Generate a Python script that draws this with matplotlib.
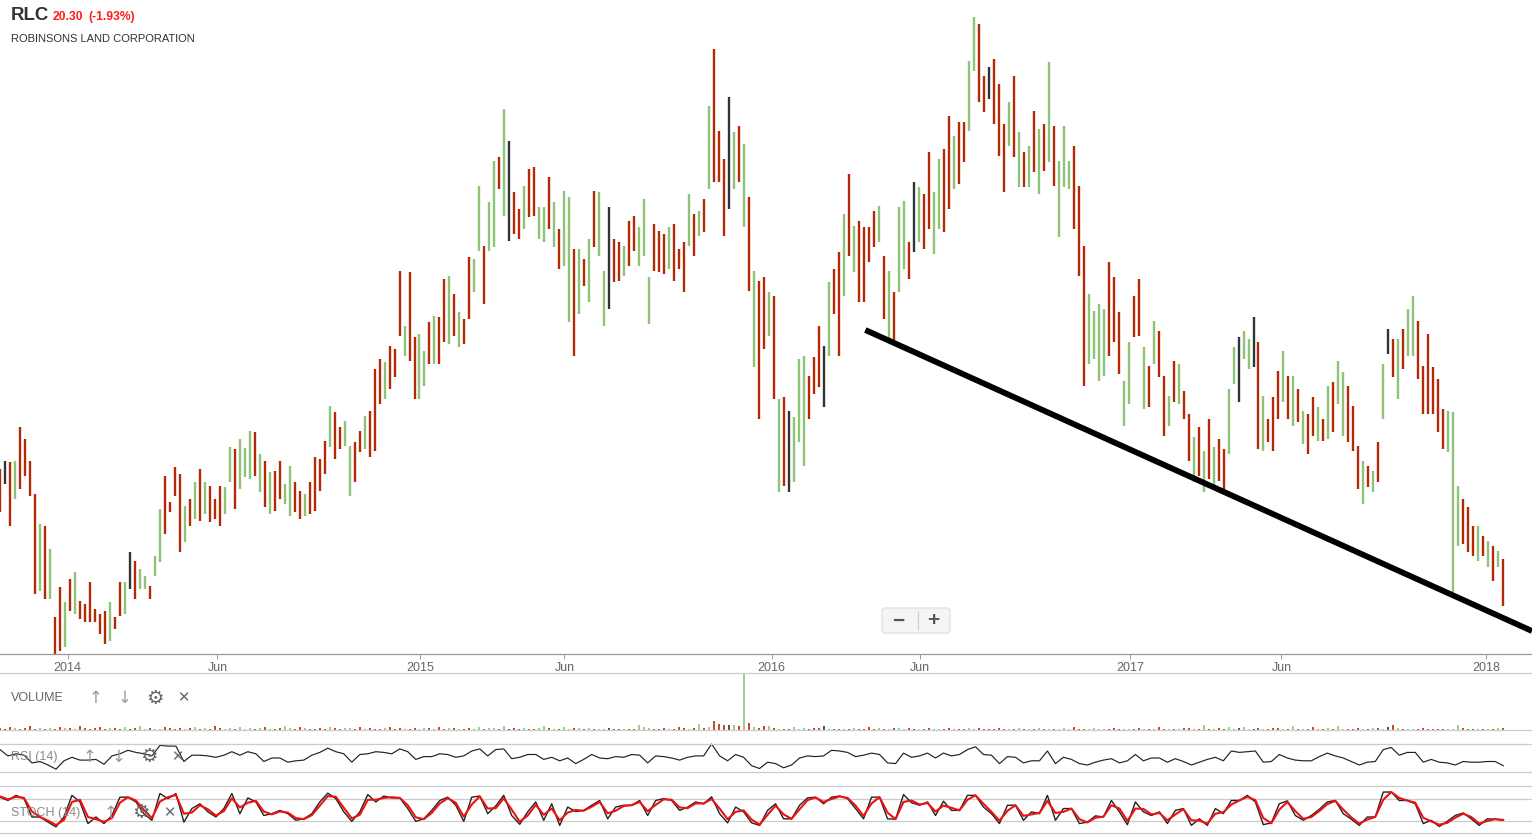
"""RLC daily range chart with volume, RSI and stochastic panels."""
import numpy as np
import matplotlib

matplotlib.use("Agg")
import matplotlib.pyplot as plt
from matplotlib.patches import FancyBboxPatch

plt.rcParams["font.family"] = ["Liberation Sans", "DejaVu Sans"]

W, H = 1532, 837
GREEN, RED, DARK = "#8fc377", "#b52a06", "#2f3538"
COLORS = {"g": GREEN, "r": RED, "k": DARK}
GRID = "#cccccc"

# price levels are read relative to the bottom axis, the chart shows no price scale
highs = [
    185, 193, 192, 193, 227, 215, 193, 160, 130, 128,
    105, 37, 67, 52, 75, 82, 53, 50, 72, 45,
    40, 43, 52, 37, 72, 72, 102, 93, 85, 78,
    68, 98, 145, 178, 152, 187, 180, 148, 155, 172,
    185, 172, 168, 155, 168, 167, 207, 205, 215, 206,
    223, 222, 200, 193, 182, 183, 193, 170, 188, 172,
    163, 160, 172, 197, 195, 213, 248, 242, 227, 233,
    208, 212, 223, 238, 243, 285, 295, 292, 308, 305,
    383, 328, 382, 317, 320, 303, 332, 338, 337, 375,
    378, 360, 342, 335, 397, 395, 468, 408, 452, 493,
    497, 545, 513, 462, 445, 468, 485, 487, 447, 447,
    477, 452, 425, 463, 457, 405, 405, 395, 415, 463,
    462, 383, 447, 415, 412, 408, 433, 438, 427, 455,
    377, 430, 423, 420, 427, 430, 405, 412, 460, 440,
    443, 455, 548, 605, 523, 495, 557, 522, 528, 510,
    457, 383, 373, 377, 362, 358, 255, 257, 243, 237,
    295, 298, 278, 297, 328, 308, 372, 385, 402, 440,
    480, 428, 433, 427, 427, 443, 448, 398, 383, 362,
    447, 453, 412, 472, 467, 460, 502, 462, 495, 505,
    538, 518, 532, 532, 593, 637, 630, 578, 587, 595,
    570, 530, 552, 578, 522, 502, 508, 543, 525, 530,
    592, 528, 493, 528, 493, 508, 468, 408, 360, 343,
    350, 345, 392, 377, 342, 273, 312, 358, 375, 307,
    288, 333, 323, 278, 258, 293, 290, 263, 240, 217,
    227, 203, 235, 207, 215, 205, 265, 307, 317, 323,
    315, 337, 312, 258, 235, 257, 283, 303, 278, 278,
    265, 243, 240, 257, 247, 235, 268, 272, 293, 282,
    268, 248, 208, 193, 188, 183, 212, 290, 325, 315,
    315, 325, 345, 358, 333, 288, 320, 287, 275, 245,
    243, 242, 168, 155, 147, 128, 128, 118, 113, 108,
    103, 95,
]
lows = [
    142, 170, 128, 155, 165, 178, 158, 60, 63, 55,
    55, 0, 3, 7, 43, 40, 35, 32, 32, 32,
    20, 10, 13, 25, 38, 40, 65, 55, 65, 65,
    55, 78, 92, 120, 142, 158, 102, 112, 128, 135,
    133, 140, 132, 135, 128, 140, 172, 145, 165, 177,
    175, 178, 162, 147, 140, 143, 155, 150, 138, 142,
    135, 138, 140, 143, 163, 180, 207, 195, 205, 208,
    158, 172, 202, 205, 197, 203, 250, 255, 265, 277,
    318, 298, 293, 255, 255, 268, 290, 290, 290, 312,
    310, 318, 307, 310, 335, 362, 403, 350, 403, 407,
    465, 438, 413, 420, 415, 425, 437, 438, 415, 412,
    425, 407, 385, 388, 332, 298, 340, 368, 352, 407,
    398, 328, 345, 372, 373, 378, 388, 403, 388, 398,
    330, 383, 382, 380, 385, 373, 385, 362, 408, 398,
    418, 422, 465, 472, 472, 418, 445, 465, 472, 427,
    363, 287, 235, 305, 318, 255, 162, 168, 162, 172,
    212, 188, 235, 260, 267, 247, 298, 340, 298, 358,
    398, 382, 352, 352, 392, 407, 412, 335, 315, 313,
    362, 385, 375, 402, 412, 405, 425, 400, 425, 422,
    445, 465, 470, 492, 523, 583, 552, 542, 555, 530,
    498, 462, 508, 497, 467, 467, 467, 482, 460, 483,
    492, 468, 417, 467, 465, 425, 378, 268, 290, 295,
    273, 278, 298, 312, 280, 228, 250, 317, 318, 245,
    247, 290, 277, 218, 228, 252, 250, 235, 193, 172,
    178, 162, 175, 168, 173, 165, 200, 270, 252, 295,
    285, 287, 205, 203, 212, 203, 235, 252, 235, 228,
    232, 210, 200, 218, 213, 213, 215, 222, 250, 218,
    212, 203, 165, 150, 167, 162, 172, 235, 300, 277,
    255, 285, 298, 298, 275, 240, 240, 240, 222, 205,
    202, 62, 108, 110, 102, 98, 93, 98, 87, 73,
    87, 48,
]
bar_colors = "".join("""
rkrgrrrrgr grrgrgrrrr rrgrrgkrgg rggrrrrgrg rgrrrggrgg grgrgrrggr
rgrrrrgrrg grrgrrrgrr rgrrggrgrr grgrrggrgg rgkrrgrrgg rgrggrgrgr
ggkrrgrrgg grrrgrrrgr grgrrrkgrg rgrrgrgrkg ggrrrkgrrg rgrrrrgrgr
ggrkgrrggr rgrrggrrkr rrgrgrgrgr grgggrrrgg ggrrrggrrg rgrrgrgrrg
rgrgrrggkg gkrgrrrgrg rgrrgrgrgg rrrgrgrgkr grggrrrrrr gggrrrgrgr
gr
""".split())
volumes = [
    2, 1, 3, 2, 1, 2, 4, 1, 2, 1, 2, 1, 3, 2, 2, 1, 4, 2, 1, 2,
    3, 1, 2, 2, 1, 3, 1, 2, 4, 1, 2, 1, 1, 3, 2, 1, 2, 1, 2, 3,
    1, 2, 1, 4, 2, 1, 2, 1, 3, 1, 2, 1, 2, 3, 1, 1, 2, 4, 2, 1,
    3, 2, 1, 1, 2, 1, 3, 2, 1, 2, 2, 1, 3, 1, 2, 1, 1, 2, 3, 1,
    2, 1, 1, 2, 1, 2, 2, 1, 3, 1, 2, 2, 1, 1, 2, 1, 3, 1, 2, 2,
    1, 4, 1, 2, 1, 2, 1, 1, 2, 4, 2, 1, 1, 3, 1, 2, 2, 1, 2, 1,
    1, 1, 2, 1, 1, 1, 1, 1, 5, 3, 2, 1, 1, 2, 1, 1, 3, 2, 1, 2,
    6, 2, 3, 9, 6, 5, 5, 5, 4, 58, 7, 3, 2, 4, 4, 2, 1, 1, 1, 3,
    1, 2, 1, 2, 2, 4, 1, 1, 1, 1, 1, 2, 1, 1, 3, 1, 2, 1, 1, 2,
    2, 1, 2, 1, 1, 1, 2, 1, 1, 1, 2, 1, 1, 1, 2, 1, 2, 1, 1, 1,
    2, 1, 1, 1, 2, 1, 1, 1, 2, 1, 1, 1, 1, 2, 1, 3, 1, 1, 1, 2,
    1, 1, 1, 2, 1, 1, 1, 1, 2, 1, 1, 1, 3, 1, 1, 1, 1, 2, 2, 1,
    1, 5, 1, 1, 2, 1, 3, 1, 2, 3, 1, 1, 2, 1, 1, 2, 2, 1, 1, 4,
    1, 1, 1, 3, 1, 1, 2, 1, 4, 1, 1, 1, 2, 1, 1, 2, 2, 1, 3, 5,
    2, 1, 1, 1, 1, 2, 1, 1, 1, 1, 1, 1, 5, 2, 1, 1, 1, 1, 1, 1,
    2, 2,
]
rsi = [
    62, 53, 56, 54, 43, 45, 40, 34, 46, 51, 47, 47, 48, 41, 53, 56, 61,
    58, 56, 53, 68, 67, 67, 45, 54, 54, 53, 51, 54, 59, 54, 59, 56, 45,
    50, 50, 44, 46, 47, 54, 58, 64, 59, 56, 44, 55, 56, 59, 58, 56, 63,
    59, 48, 52, 52, 56, 55, 51, 53, 60, 63, 53, 62, 63, 49, 51, 55, 55,
    48, 51, 46, 50, 42, 48, 55, 50, 49, 52, 51, 55, 54, 43, 53, 52, 50,
    47, 51, 53, 53, 70, 53, 46, 55, 51, 39, 35, 44, 42, 36, 40, 50, 53,
    52, 53, 61, 60, 58, 52, 54, 57, 55, 43, 42, 57, 51, 53, 57, 50, 57,
    53, 55,
    62, 66, 55, 54, 42, 52, 51, 43, 46, 46, 60, 42, 51, 48, 42, 40, 44,
    47, 49, 43, 46, 55, 46, 50, 50, 44, 49, 45, 40, 44, 48, 51, 46, 60,
    58, 59, 60, 44, 45, 55, 50, 47, 46, 46, 52, 57, 53, 50, 45, 40, 44,
    45, 62, 65, 54, 58, 58, 44, 48, 44, 43, 40, 45, 44, 44, 45, 45, 39,
]
stoch_k = [
    85, 76, 90, 81, 31, 31, 17, 4, 31, 90, 72, 13, 31, 13, 35, 85, 85,
    72, 40, 22, 95, 81, 95, 17, 54, 67, 45, 31, 54, 95, 40, 83, 72, 35,
    40, 49, 40, 22, 26, 40, 72, 96, 81, 45, 19, 45, 92, 72, 88, 83, 83,
    54, 19, 26, 49, 76, 85, 63, 19, 85, 88, 40, 61, 90, 35, 11, 45, 72,
    22, 67, 8, 58, 46, 49, 63, 76, 26, 58, 63, 63, 76, 35, 76, 81, 76,
    49, 58, 72, 67, 86, 40, 15, 58, 45, 15, 8, 49, 67, 26, 26, 63, 83,
    85, 67, 85, 88, 81, 54, 26, 85, 85, 26, 25, 92, 70, 63, 72, 35, 74,
    49, 49,
    90, 90, 58, 40, 13, 63, 63, 22, 45, 40, 90, 22, 54, 54, 13, 17, 34,
    31, 76, 45, 10, 72, 45, 35, 45, 13, 49, 54, 8, 26, 8, 54, 40, 76,
    76, 90, 72, 10, 15, 67, 75, 35, 22, 35, 52, 72, 76, 40, 25, 8, 31,
    31, 99, 99, 76, 76, 67, 13, 22, 5, 19, 35, 42, 26, 8, 26, 25, 22,
]
stoch_d = [
    87, 79, 86, 83, 46, 31, 21, 9, 23, 72, 78, 31, 25, 18, 28, 70, 85,
    76, 50, 28, 73, 85, 91, 40, 43, 63, 52, 35, 47, 82, 57, 70, 75, 46,
    38, 46, 43, 28, 25, 36, 62, 88, 86, 56, 27, 37, 78, 78, 83, 85, 83,
    63, 30, 25, 42, 68, 82, 70, 32, 65, 87, 54, 55, 82, 51, 18, 35, 64,
    37, 54, 22, 43, 50, 48, 59, 72, 41, 48, 61, 63, 72, 47, 64, 79, 78,
    57, 55, 68, 68, 80, 54, 25, 45, 49, 24, 10, 37, 62, 38, 26, 52, 77,
    84, 72, 80, 87, 83, 62, 34, 68, 85, 43, 25, 72, 76, 65, 69, 46, 62,
    56, 49,
    78, 90, 67, 45, 21, 48, 63, 34, 38, 42, 75, 42, 45, 54, 25, 16, 29,
    32, 63, 54, 20, 54, 53, 38, 42, 22, 38, 52, 22, 21, 13, 40, 44, 65,
    76, 86, 77, 28, 14, 51, 72, 47, 26, 31, 47, 66, 75, 51, 30, 13, 24,
    31, 78, 99, 83, 76, 70, 29, 19, 10, 15, 29, 40, 31, 13, 20, 25, 23,
]
tick_sessions = [47, 151, 292, 392, 536, 639, 785, 890, 1032]
tick_labels = ["2014", "Jun", "2015", "Jun", "2016", "Jun", "2017", "Jun", "2018"]
trend_sessions = [601, 1064]
trend_levels = [324, 23]

assert len(highs) == len(lows) == len(bar_colors) == len(volumes) == 302
assert len(rsi) == len(stoch_k) == len(stoch_d) == 189

LAST_SESSION = 1044
SHOWN_SESSIONS = 1064
sessions = np.linspace(0, LAST_SESSION, len(highs))
ind_sessions = np.linspace(0, LAST_SESSION, len(rsi))
colors = [COLORS[c] for c in bar_colors]


def panel(fig, top, bottom):
    ax = fig.add_axes([0, 1 - bottom / H, 1, (bottom - top) / H])
    ax.set_xlim(0, SHOWN_SESSIONS)
    ax.set_xticks([])
    ax.set_yticks([])
    ax.patch.set_alpha(0)
    for side in ("left", "right"):
        ax.spines[side].set_visible(False)
    for side in ("top", "bottom"):
        ax.spines[side].set_color(GRID)
        ax.spines[side].set_linewidth(0.9)
    return ax


fig = plt.figure(figsize=(W / 100, H / 100), dpi=100)

# price
ax = panel(fig, 0, 655)
ax.set_ylim(0, 655)
ax.spines["top"].set_visible(False)
ax.spines["bottom"].set_color("#999999")
ax.vlines(sessions, lows, highs, colors=colors, linewidth=1.7)
ax.plot(trend_sessions, trend_levels, color="black", lw=4.2, solid_capstyle="butt")
ax.set_xticks(tick_sessions, tick_labels)
ax.tick_params(axis="x", length=3.5, width=0.7, color="#999999", labelcolor="#666666",
               labelsize=9, pad=1.5)

# volume
ax_vol = panel(fig, 673.5, 731)
ax_vol.set_ylim(0, 57.5)
ax_vol.vlines(sessions, 0, volumes, colors=colors, linewidth=1.2)

# rsi
ax_rsi = panel(fig, 745, 773)
ax_rsi.set_ylim(30, 70)
ax_rsi.plot(ind_sessions, rsi, color="#222222", lw=0.85, clip_on=False)

# stochastic
ax_st = panel(fig, 787, 834)
ax_st.set_ylim(-12.7, 115.5)
for level in (20, 80):
    ax_st.axhline(level, color=GRID, lw=0.9)
ax_st.plot(ind_sessions, stoch_k, color="#222222", lw=1.0)
ax_st.plot(ind_sessions, stoch_d, color="#ee1111", lw=1.5)

# header, panel labels and controls sit on an overlay in figure pixels
over = fig.add_axes([0, 0, 1, 1])
over.set_xlim(0, W)
over.set_ylim(H, 0)
over.axis("off")
over.text(11, 15, "RLC", fontsize=13.4, fontweight="bold", color="#333333", va="center")
over.text(53, 17, "20.30", fontsize=8.7, fontweight="bold", color="#ff1a1a", va="center")
over.text(88, 17, "(-1.93%)", fontsize=8.7, fontweight="bold", color="#ff1a1a", va="center")
over.text(11, 39, "ROBINSONS LAND CORPORATION", fontsize=8, color="#333333", va="center")

ICON = ["DejaVu Sans"]
rows = [("VOLUME", 698, "#666666", (96, 125, 155, 183)),
        ("RSI (14)", 757, "#888888", (90, 119, 149, 177)),
        ("STOCH (14)", 813, "#888888", (111, None, 141, 169))]
for label, y, col, (up, down, gear, close) in rows:
    over.text(11, y, label, fontsize=9, color=col, va="center")
    over.text(up, y, "\u2191", fontsize=12, color="#999999", ha="center", va="center", family=ICON)
    if down is not None:
        over.text(down, y, "\u2193", fontsize=12, color="#999999", ha="center", va="center", family=ICON)
    over.text(gear, y, "\u2699", fontsize=14, fontweight="bold", color="#666666", ha="center", va="center", family=ICON)
    over.text(close, y, "\u2715", fontsize=10.5, fontweight="bold", color="#666666", ha="center", va="center", family=ICON)

box = FancyBboxPatch((882, 609), 68, 25, boxstyle="round,pad=0,rounding_size=3",
                     fc="#f4f4f4", ec="#e2e2e2", lw=1)
over.add_patch(box)
over.plot([917.5, 917.5], [613, 630], color="#cccccc", lw=0.8)
over.text(898, 621, "\u2212", fontsize=15, fontweight="bold", color="#555555", ha="center", va="center")
over.text(933, 621, "+", fontsize=15, fontweight="bold", color="#555555", ha="center", va="center")

fig.savefig("out.png", dpi=100)
